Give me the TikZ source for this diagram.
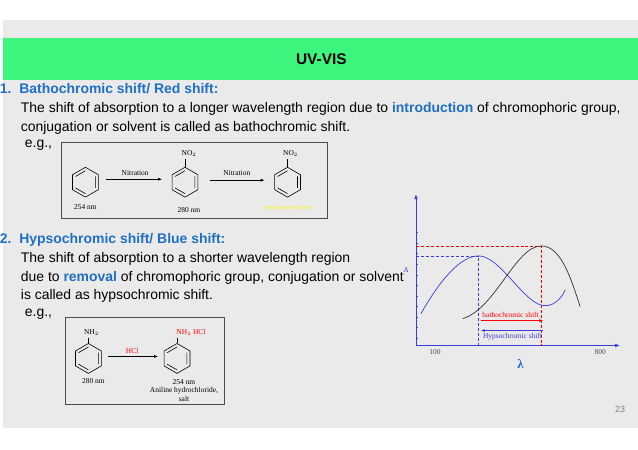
\documentclass[tikz,border=0pt]{standalone}
\usepackage{fontspec}
\setmainfont{Liberation Sans}
\newfontfamily\serifb{Liberation Serif}
\usetikzlibrary{arrows.meta}
\definecolor{bg}{HTML}{EAEAEA}
\definecolor{band}{HTML}{3DF57C}
\definecolor{tblue}{HTML}{1F6FC5}
\definecolor{cblue}{HTML}{3B3BD8}
\tikzset{
  body/.style={anchor=west,font=\fontsize{14}{15}\selectfont,inner sep=0pt},
  head/.style={anchor=west,font=\fontsize{14}{15}\selectfont\bfseries,text=tblue,inner sep=0pt},
  chem/.style={font=\serifb\fontsize{7.5}{8.5}\selectfont,inner sep=1pt},
  box/.style={draw=black!70,line width=0.8pt},
  rxn/.style={-{Latex[length=4pt]},line width=0.6pt},
  dsh/.style={dash pattern=on 3pt off 2pt,line width=0.6pt},
  ring/.pic={
    \draw[line width=0.6pt] (90:15)--(30:15)--(-30:15)--(-90:15)--(-150:15)--(150:15)--cycle;
    \draw[line width=0.6pt] (30:11.5)--(-30:11.5) (-90:11.5)--(-150:11.5) (150:11.5)--(90:11.5);
  }
}
\begin{document}
\begin{tikzpicture}[x=1pt,y=-1pt]
\fill[white] (0,0) rectangle (638,451);
\fill[bg] (0,20) rectangle (638,430);
\fill[band] (0,38) rectangle (638,80);
\node[font=\fontsize{15.5}{17}\selectfont\bfseries] (title) at (320,59) {UV-VIS};
\node[head] (h1) at (-3,89) {1.\ \ Bathochromic shift/ Red shift:};
\node[body] (l1) at (18,109) {The shift of absorption to a longer wavelength region due to \textcolor{tblue}{\bfseries introduction} of chromophoric group,};
\node[body] (l2) at (18,128) {conjugation or solvent is called as bathochromic shift.};
\node[body] (l3) at (22,146) {e.g.,};
% box 1
\draw[box] (59,143) rectangle (326,219);
\pic at (83,183) {ring};
\draw[line width=0.6pt] (183,168) -- +(0,-8);
\pic at (183,183) {ring};
\draw[line width=0.6pt] (286,168) -- +(0,-8);
\pic at (286,183) {ring};
\node[chem] (n1) at (83,208) {254 nm};
\node[chem] (n2) at (187,211) {280 nm};
\node[chem] (no1) at (187,154) {NO$_2$};
\node[chem] (no2) at (289,154) {NO$_2$};
\draw[rxn] (104,180) -- (160,180);
\node[chem] (t1) at (133,174) {Nitration};
\draw[rxn] (208,181) -- (263,181);
\node[chem] (t2) at (235,174) {Nitration};
\node[chem,text=yellow,font=\serifb\fontsize{6}{7}\selectfont] (t3) at (287,209) {deep intense yellow};
% section 2
\node[head] (h2) at (-3,241) {2.\ \ Hypsochromic shift/ Blue shift:};
\node[body] (m1) at (18,260) {The shift of absorption to a shorter wavelength region};
\node[body] (m2) at (18,279) {due to \textcolor{tblue}{\bfseries removal} of chromophoric group, conjugation or solvent};
\node[body] (m3) at (18,297) {is called as hypsochromic shift.};
\node[body] (m4) at (22,316) {e.g.,};
\draw[box] (63,319) rectangle (223,406);
\draw[line width=0.6pt] (86,345) -- +(0,-6);
\pic at (86,360) {ring};
\draw[line width=0.6pt] (175,345) -- +(0,-6);
\pic at (175,360) {ring};
\node[chem] (nh1) at (89,334) {NH$_2$};
\node[chem,text=red] (nh2) at (189,334) {NH$_2$ HCl};
\draw[rxn] (106,358) -- (156,358);
\node[chem,text=red] (hcl) at (130,352) {HCl};
\node[chem] (b1) at (91,383) {280 nm};
\node[chem,align=center,inner sep=0pt] (b2) at (182,392) {254 nm\\Aniline hydrochloride,\\salt};
% graph
\coordinate (O) at (415,347);
\draw[cblue,line width=0.8pt,-{Latex[length=5pt]}] (O) -- (415,195);
\draw[cblue,line width=0.8pt,-{Latex[length=5pt]}] (O) -- (620,347);
\foreach \y in {233,244,254,265,276,286,297,307,318,328,339} \fill[cblue] (415,\y) rectangle +(2,1);
\draw[red,dsh] (415,247) -- (541,247) -- (541,348);
\draw[cblue,dsh] (415,257) -- (478,257) -- (478,348);
\draw[cblue,line width=0.7pt] (420,315) .. controls (440,280) and (460,257) .. (478,257) .. controls (500,257) and (525,308) .. (545,307) .. controls (555,307) and (562,298) .. (565,291);
\draw[black!80,line width=0.7pt] (462,320) .. controls (495,310) and (515,247) .. (541,247) .. controls (562,247) and (572,285) .. (580,308);
\draw[red,line width=0.8pt,-{Latex[length=4pt]}] (480,322) -- (543,322);
\node[chem,text=red] (bs) at (510,316) {bathochromic shift};
\draw[cblue,line width=0.8pt,-{Latex[length=4pt]}] (543,332) -- (480,332);
\node[chem,text=cblue] (hs) at (512,338) {Hypsochromic shift};
\node[chem,text=cblue] (yl) at (405,271) {A};
\node[chem,text=black!70] (x1) at (434,354) {100};
\node[chem,text=black!70] (x2) at (600,354) {800};
\node[text=tblue,font=\serifb\fontsize{13}{14}\selectfont\bfseries] (lam) at (520,366) {λ};
\node[text=black!50,font=\fontsize{9}{10}\selectfont] (pg) at (620,411) {23};
\end{tikzpicture}
\end{document}
